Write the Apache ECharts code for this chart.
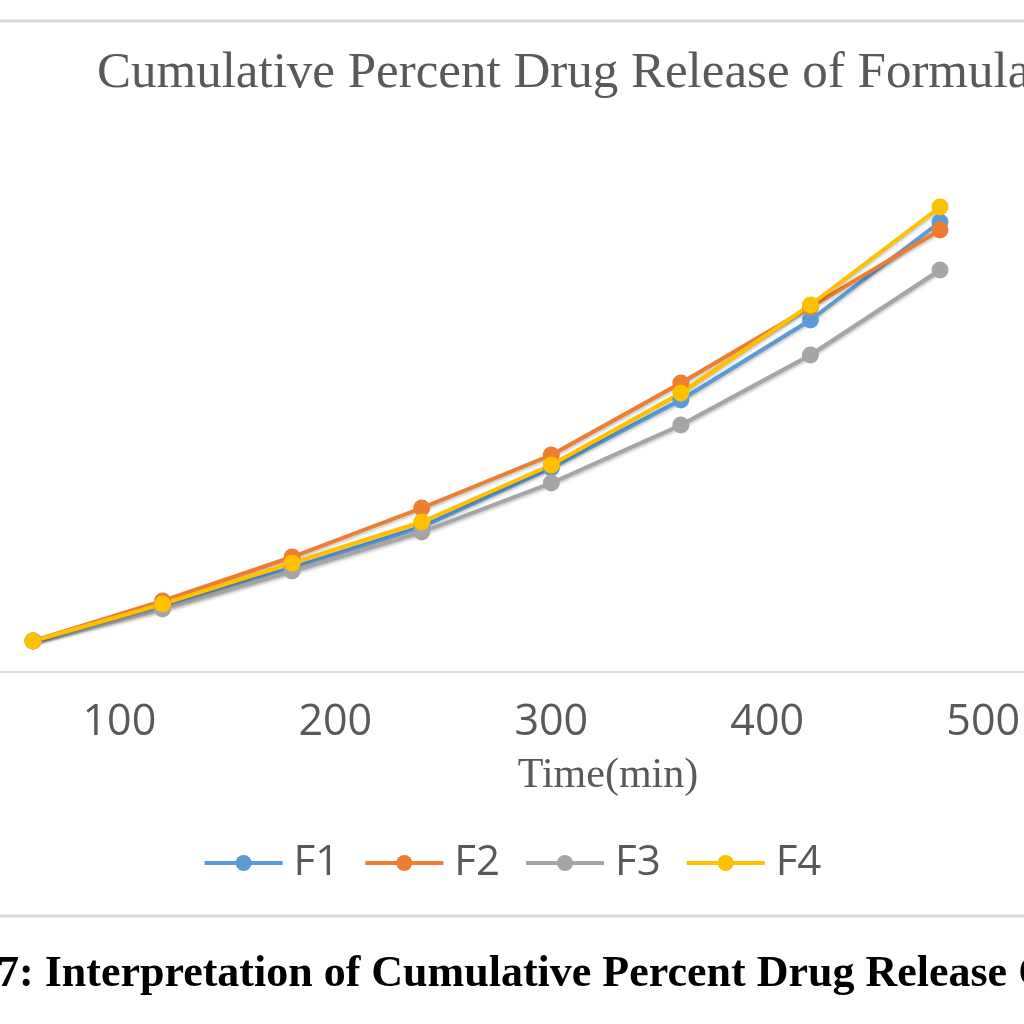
<!DOCTYPE html>
<html>
<head>
<meta charset="utf-8">
<script src="https://cdn.jsdelivr.net/npm/echarts@6/dist/echarts.min.js"></script>
<style>html,body{margin:0;padding:0;background:#fff}#c{width:1024px;height:1024px}</style>
</head>
<body>
<div id="c"></div>
<script>
const timeMin = [60, 120, 180, 240, 300, 360, 420, 480];
const F1 = [6.2, 13.2, 20.8, 29.0, 40.8, 54.4, 70.4, 90.0];
const F2 = [6.2, 14.2, 23.0, 32.8, 43.4, 57.8, 73.0, 88.4];
const F3 = [6.2, 12.6, 20.2, 28.0, 37.8, 49.4, 63.4, 80.4];
const F4 = [6.2, 13.6, 21.8, 30.0, 41.4, 55.8, 73.4, 93.0];
const xTickLabels = [100, 200, 300, 400, 500];
const seriesNames = ['F1', 'F2', 'F3', 'F4'];
const seriesColors = ['#5b9bd5', '#ed7d31', '#a5a5a5', '#ffc000'];
const titleText = 'Cumulative Percent Drug Release of Formulations';
const xAxisTitle = 'Time(min)';
const captionText = '7: Interpretation of Cumulative Percent Drug Release Of Formulations';

const allData = [F1, F2, F3, F4];
const chart = echarts.init(document.getElementById('c'));
chart.setOption({
  animation: false,
  backgroundColor: '#ffffff',
  graphic: [
    { type: 'rect', z: 0, shape: { x: -10, y: 21, width: 1044, height: 895 },
      style: { fill: 'none', stroke: '#d9d9d9', lineWidth: 3 } },
    { type: 'text', left: -3, top: 953, z: 10,
      style: { text: captionText, font: 'bold 44px "Liberation Serif", serif', fill: '#000000' } },
    { type: 'text', left: 97, top: 48, z: 10,
      style: { text: titleText, font: '51px "Liberation Serif", serif', fill: '#595959' } },
    { type: 'text', x: 608, y: 776, z: 10,
      style: { text: xAxisTitle, font: '42px "Liberation Serif", serif', fill: '#595959',
               textAlign: 'center', textVerticalAlign: 'middle' } }
  ],
  grid: { left: 0, right: 0, top: 72, bottom: 352, containLabel: false },
  xAxis: {
    type: 'value', min: 44.72, max: 518.9,
    axisLine: { show: true, lineStyle: { color: '#d9d9d9', width: 2 } },
    axisTick: { show: false },
    splitLine: { show: false },
    axisLabel: { color: '#595959', fontSize: 43, fontFamily: '"Open Sans", sans-serif', margin: 29,
                 customValues: xTickLabels, hideOverlap: false }
  },
  yAxis: { type: 'value', min: 0, max: 120, show: false },
  legend: {
    bottom: 135, left: 'center',
    itemWidth: 78, itemHeight: 20, itemGap: 24,
    lineStyle: { width: 4 },
    textStyle: { color: '#595959', fontSize: 42, fontFamily: '"Open Sans", sans-serif', padding: [0, 0, 0, 6] },
    data: seriesNames
  },
  series: seriesNames.map((n, i) => ({
    name: n, type: 'line',
    data: timeMin.map((t, j) => [t, allData[i][j]]),
    symbol: 'circle', symbolSize: 17,
    itemStyle: { color: seriesColors[i] },
    lineStyle: { color: seriesColors[i], width: 4, shadowColor: 'rgba(0,0,0,0.25)', shadowBlur: 3, shadowOffsetY: 2 }
  }))
});
</script>
</body>
</html>
